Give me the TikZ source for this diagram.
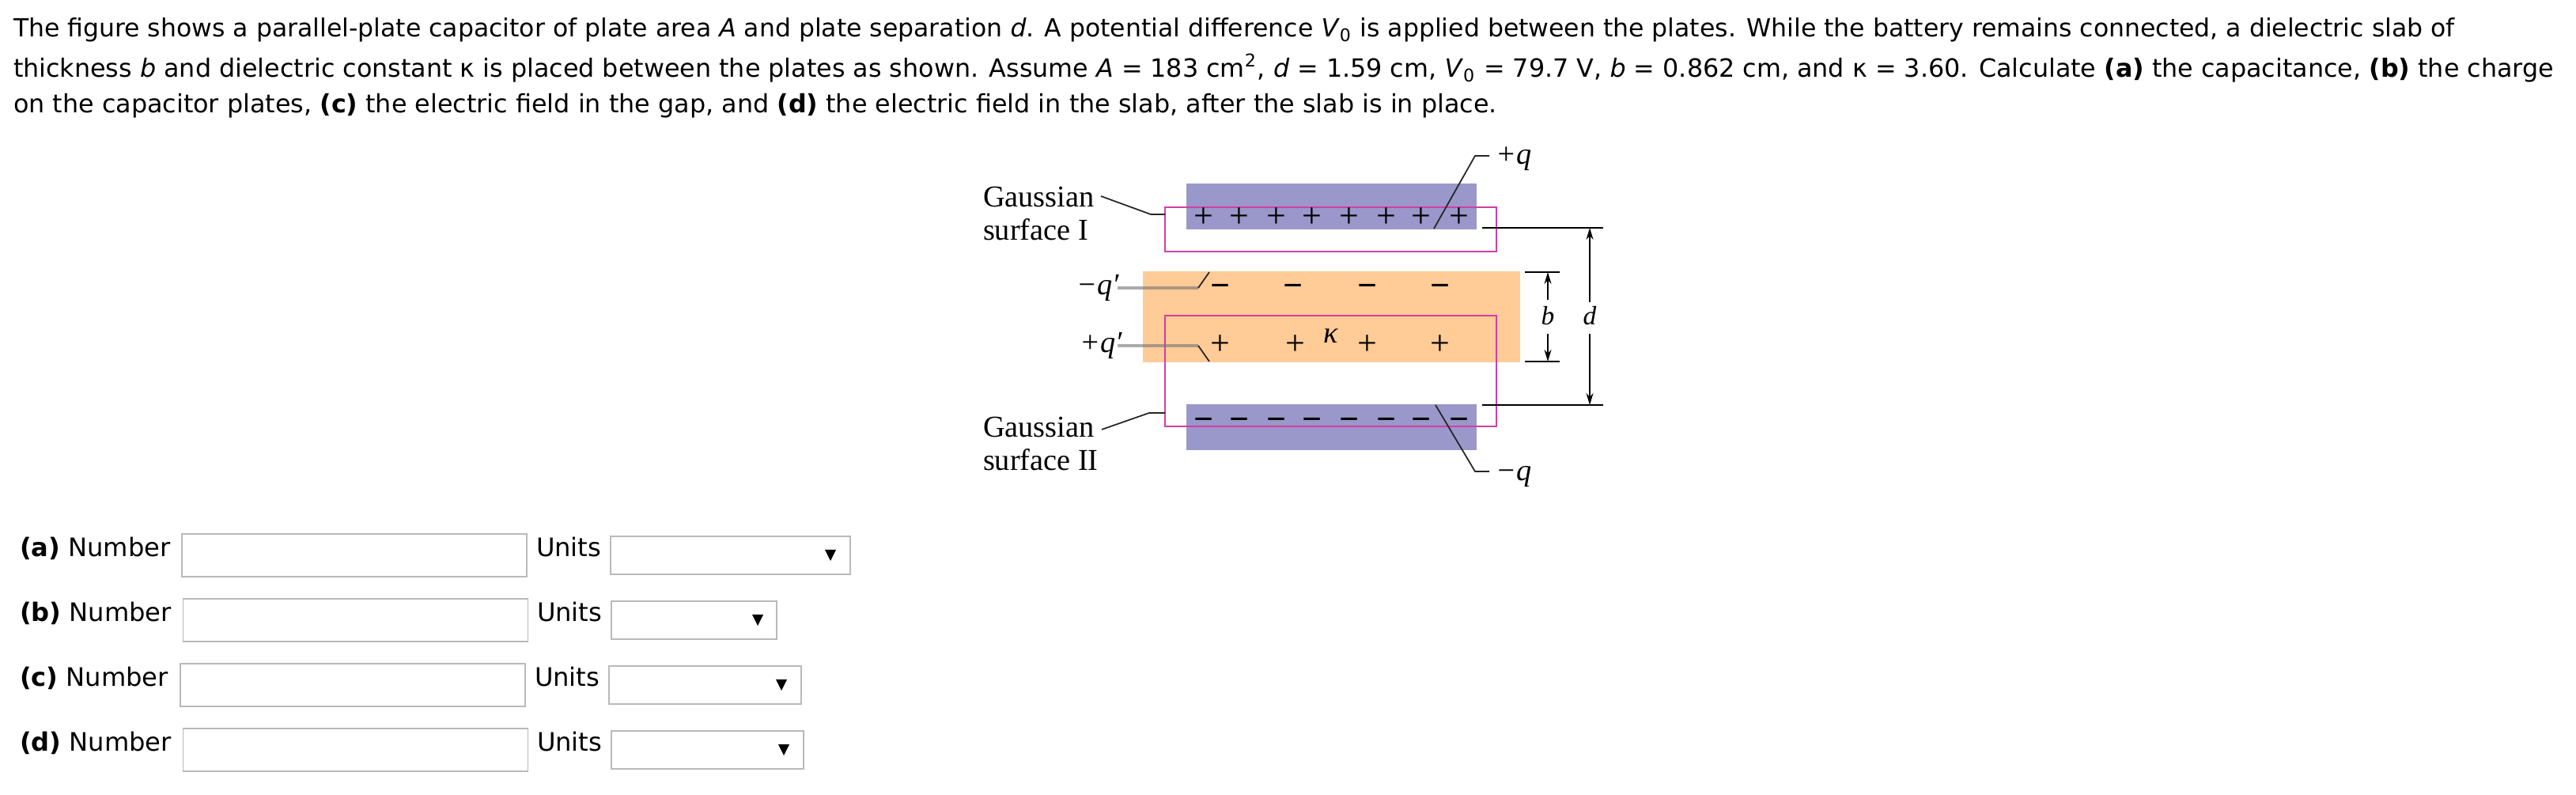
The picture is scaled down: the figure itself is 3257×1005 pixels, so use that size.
\documentclass[tikz,border=0pt]{standalone}
\usepackage{fontspec}
\setmainfont{DejaVu Sans}
\newfontfamily\figfont{Liberation Serif}
\usetikzlibrary{arrows.meta}
\definecolor{plateblue}{HTML}{9A97CA}
\definecolor{slaborange}{HTML}{FFCB96}
\definecolor{gaussline}{HTML}{D23FA5}
\definecolor{boxline}{HTML}{B9B9B9}
\tikzstyle{arrow} = [line width=0.45pt,-{Stealth[length=1.5mm,width=0.9mm]}]
\tikzstyle{leader} = [line width=0.5pt,black!85]
\tikzstyle{halo} = [line width=1pt,black!55,opacity=0.6]
\tikzstyle{plate} = [fill=plateblue,minimum width=367*0.1mm,minimum height=58*0.1mm]
\tikzstyle{gauss} = [draw=gaussline,line width=0.6pt,minimum width=419*0.1mm]
\tikzstyle{txt} = [anchor=base west,font=\fontsize{9.04}{11}\selectfont]
\tikzstyle{numtxt} = [anchor=base west,font=\fontsize{9.15}{11}\selectfont]
\tikzstyle{lab} = [font=\figfont\fontsize{10.9}{12}\selectfont]
\tikzstyle{sign} = [font=\figfont\fontsize{12.5}{12}\selectfont]
\tikzstyle{minus} = [font=\figfont\bfseries\fontsize{12.5}{12}\selectfont]
\tikzstyle{inbox} = [draw=boxline,line width=0.4pt,minimum width=436*0.1mm,minimum height=54*0.1mm]
\tikzstyle{selbox} = [draw=boxline,line width=0.4pt,minimum height=48*0.1mm]
\newcommand{\seltip}[2]{\fill (#1-7,#2) -- (#1+7,#2) -- (#1,#2+14) -- cycle;}

\begin{document}
\begin{tikzpicture}[x=0.1mm,y=-0.1mm,every node/.style={inner sep=0pt,outer sep=0pt}]
        \useasboundingbox (0,0) rectangle (3257,1005);

        % Question text
        \node[txt,font=\fontsize{8.96}{11}\selectfont] (line1) at (17,47) {The figure shows a parallel-plate capacitor of plate area \textit{A} and plate separation \textit{d}. A potential difference \textit{V}\textsubscript{0} is applied between the plates. While the battery remains connected, a dielectric slab of};
        \node[txt] (line2) at (17,98) {thickness \textit{b} and dielectric constant κ is placed between the plates as shown. Assume \textit{A} = 183 cm\textsuperscript{2}, \textit{d} = 1.59 cm, \textit{V}\textsubscript{0} = 79.7 V, \textit{b} = 0.862 cm, and κ = 3.60. Calculate \textbf{(a)} the capacitance, \textbf{(b)} the charge};
        \node[txt,font=\fontsize{9.05}{11}\selectfont] (line3) at (17,143) {on the capacitor plates, \textbf{(c)} the electric field in the gap, and \textbf{(d)} the electric field in the slab, after the slab is in place.};

        % Plates and slab
        \node[plate] (topplate) at (1683.5,261) {};
        \node[plate] (botplate) at (1683.5,540.5) {};
        \node[fill=slaborange,minimum width=477*0.1mm,minimum height=115*0.1mm] (slab) at (1683.5,400.5) {};

        % Gaussian surfaces
        \node[gauss,minimum height=56*0.1mm] (gaussI) at (1682.5,290) {};
        \node[gauss,minimum height=140*0.1mm] (gaussII) at (1682.5,469) {};

        % Charges on top plate
        \node[sign] (p1) at (1522,275) {+};
        \node[sign] (p2) at (1567,275) {+};
        \node[sign] (p3) at (1614,275) {+};
        \node[sign] (p4) at (1659,275) {+};
        \node[sign] (p5) at (1706,275) {+};
        \node[sign] (p6) at (1753,275) {+};
        \node[sign] (p7) at (1797,275) {+};
        \node[sign] (p8) at (1845,275) {+};

        % Charges on bottom plate
        \node[minus] (m1) at (1522,536) {−};
        \node[minus] (m2) at (1567,536) {−};
        \node[minus] (m3) at (1614,536) {−};
        \node[minus] (m4) at (1659,536) {−};
        \node[minus] (m5) at (1706,536) {−};
        \node[minus] (m6) at (1753,536) {−};
        \node[minus] (m7) at (1797,536) {−};
        \node[minus] (m8) at (1845,536) {−};

        % Charges on slab
        \node[minus] (sm1) at (1543,367) {−};
        \node[minus] (sm2) at (1635,367) {−};
        \node[minus] (sm3) at (1729,367) {−};
        \node[minus] (sm4) at (1821,367) {−};
        \node[sign] (sp1) at (1543,436) {+};
        \node[sign] (sp2) at (1638,436) {+};
        \node[sign] (sp3) at (1729,436) {+};
        \node[sign] (sp4) at (1821,436) {+};

        % Labels
        \node[lab,anchor=base west] (gausstop) at (1243,262) {Gaussian};
        \node[lab,anchor=base west] (surfI) at (1243,304) {surface I};
        \node[lab,anchor=base west] (gaussbot) at (1243,553) {Gaussian};
        \node[lab,anchor=base west] (surfII) at (1243,595) {surface II};
        \node[lab,anchor=base] (qtop) at (1914,208) {\itshape +q};
        \node[lab,anchor=base] (qbot) at (1914,608) {\itshape −q};
        \node[lab,anchor=base] (qmin) at (1388,373) {\itshape −q′};
        \node[lab,anchor=base] (qplus) at (1392,446) {\itshape +q′};
        \node[lab,anchor=base] (kappa) at (1683,434) {\itshape κ};
        \node[lab,anchor=base,font=\figfont\itshape\fontsize{9.5}{12}\selectfont] (blab) at (1957,411) {b};
        \node[lab,anchor=base,font=\figfont\itshape\fontsize{9.5}{12}\selectfont] (dlab) at (2010,411) {d};

        % Leader lines
        \coordinate (gI1) at (1392,248);
        \coordinate (gI2) at (1455,271);
        \coordinate (gI3) at (1473,271);
        \coordinate (gII1) at (1393,543);
        \coordinate (gII2) at (1453,522);
        \coordinate (gII3) at (1473,522);
        \coordinate (qt1) at (1813,289);
        \coordinate (qt2) at (1865,197);
        \coordinate (qt3) at (1883,197);
        \coordinate (qb1) at (1815,512);
        \coordinate (qb2) at (1865,596);
        \coordinate (qb3) at (1883,596);
        \coordinate (qm1) at (1413,364);
        \coordinate (qm2) at (1515,364);
        \coordinate (qm3) at (1529,344);
        \coordinate (qp1) at (1413,437);
        \coordinate (qp2) at (1515,437);
        \coordinate (qp3) at (1529,457);
        \draw[leader] (gI1) -- (gI2) -- (gI3);
        \draw[leader] (gII1) -- (gII2) -- (gII3);
        \draw[leader] (qt1) -- (qt2) -- (qt3);
        \draw[leader] (qb1) -- (qb2) -- (qb3);
        \draw[halo] (qm1) -- (qm2);
        \draw[leader] (qm2) -- (qm3);
        \draw[halo] (qp1) -- (qp2);
        \draw[leader] (qp2) -- (qp3);

        % Dimension lines
        \coordinate (dtl) at (1874,288);
        \coordinate (dtr) at (2027,288);
        \coordinate (dbl) at (1874,512);
        \coordinate (dbr) at (2027,512);
        \coordinate (btl) at (1928,344);
        \coordinate (btr) at (1972,344);
        \coordinate (bbl) at (1928,457);
        \coordinate (bbr) at (1972,457);
        \coordinate (dup) at (2010,288);
        \coordinate (ddn) at (2010,512);
        \coordinate (bup) at (1957,344);
        \coordinate (bdn) at (1957,457);
        \draw[line width=0.6pt] (dtl) -- (dtr);
        \draw[line width=0.6pt] (dbl) -- (dbr);
        \draw[line width=0.6pt] (btl) -- (btr);
        \draw[line width=0.6pt] (bbl) -- (bbr);
        \draw[arrow] ([yshift=-9.4mm]dup) -- (dup);
        \draw[arrow] ([yshift=9mm]ddn) -- (ddn);
        \draw[arrow] ([yshift=-3.5mm]bup) -- (bup);
        \draw[arrow] ([yshift=3.5mm]bdn) -- (bdn);

        % Answer rows
        \node[numtxt] (numa) at (25,704) {\textbf{(a)} Number};
        \node[inbox] (inpa) at (448,702) {};
        \node[numtxt] (unita) at (678,704) {Units};
        \node[selbox,minimum width=303*0.1mm] (sela) at (923.5,702) {};
        \seltip{1050}{695}

        \node[numtxt] (numb) at (25,786) {\textbf{(b)} Number};
        \node[inbox] (inpb) at (449.5,784) {};
        \node[numtxt] (unitb) at (679,786) {Units};
        \node[selbox,minimum width=209*0.1mm] (selb) at (877.5,784) {};
        \seltip{958}{777}

        \node[numtxt] (numc) at (25,868) {\textbf{(c)} Number};
        \node[inbox] (inpc) at (446,866) {};
        \node[numtxt] (unitc) at (676,868) {Units};
        \node[selbox,minimum width=243*0.1mm] (selc) at (891.5,866) {};
        \seltip{988}{859}

        \node[numtxt] (numd) at (25,950) {\textbf{(d)} Number};
        \node[inbox] (inpd) at (449.5,948) {};
        \node[numtxt] (unitd) at (679,950) {Units};
        \node[selbox,minimum width=243*0.1mm] (seld) at (894.5,948) {};
        \seltip{991}{941}
      \end{tikzpicture}
\end{document}
